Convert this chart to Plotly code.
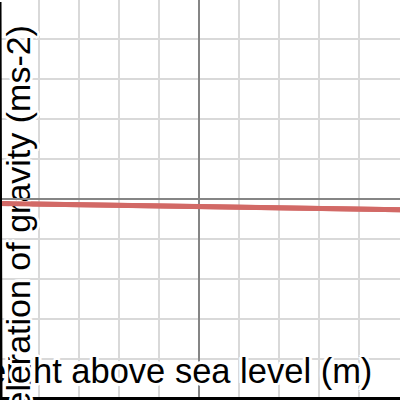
import plotly.graph_objects as go

# Data
heights_m = [-30000, -20000, -10000, 0, 10000, 20000, 30000]
gravity_ms2 = [9.903, 9.872, 9.841, 9.810, 9.779, 9.748, 9.717]

x_grid_ticks = [-20000, -15000, -10000, -5000, 0, 5000, 10000, 15000, 20000]
y_grid_ticks = [6, 7, 8, 9, 10, 11, 12, 13, 14]
y_axis_level = 10

x_title = "Height above sea level (m)"
y_title = "Acceleration of gravity (ms-2)"

FONT = "Liberation Sans, Arial, Helvetica, sans-serif"
HALO = ("3px 0 0 white, -3px 0 0 white, 0 3px 0 white, 0 -3px 0 white, "
        "2px 2px 0 white, -2px -2px 0 white, 2px -2px 0 white, -2px 2px 0 white, "
        "0 0 3px white")
RED = "rgb(210,105,102)"
AXIS_GREY = "#858585"

fig = go.Figure()
fig.add_trace(go.Scatter(
    x=heights_m, y=gravity_ms2, mode="lines",
    line=dict(color=RED, width=5),
    hoverinfo="skip", showlegend=False,
))


def overlay_segment(x_head, y_head, x_tail, y_tail, color, width):
    # line drawn on top of the axis titles (like the original rendering order)
    return dict(xref="x", yref="y", axref="x", ayref="y",
                x=x_head, y=y_head, ax=x_tail, ay=y_tail,
                text=" ", font=dict(size=1, color="rgba(0,0,0,0)"),
                showarrow=True, arrowhead=0, arrowwidth=width,
                arrowcolor=color, standoff=0, startstandoff=0)


mid = len(heights_m) // 2
annotations = [
    dict(text=x_title, xref="paper", yref="paper", x=0.4175, y=0.0725,
         xanchor="center", yanchor="middle", showarrow=False,
         font=dict(family=FONT, size=34.5, color="black", shadow=HALO)),
    dict(text=y_title, xref="paper", yref="paper", x=0.0455, y=0.385,
         xanchor="center", yanchor="middle", showarrow=False, textangle=-90,
         font=dict(family=FONT, size=34, color="black", shadow=HALO)),
    overlay_segment(heights_m[mid], y_axis_level, heights_m[0], y_axis_level, AXIS_GREY, 2),
    overlay_segment(heights_m[mid], y_axis_level, heights_m[-1], y_axis_level, AXIS_GREY, 2),
    overlay_segment(heights_m[mid], gravity_ms2[mid], heights_m[0], gravity_ms2[0], RED, 5),
    overlay_segment(heights_m[mid], gravity_ms2[mid], heights_m[-1], gravity_ms2[-1], RED, 5),
    # left frame edge on top
    dict(xref="paper", yref="paper", x=0, y=0, axref="pixel", ayref="pixel",
         ax=0, ay=-420, text=" ", font=dict(size=1, color="rgba(0,0,0,0)"),
         showarrow=True, arrowhead=0, arrowwidth=3, arrowcolor="black",
         standoff=0, startstandoff=0),
]

fig.update_layout(
    width=400, height=400,
    margin=dict(l=0, r=0, t=0, b=0),
    paper_bgcolor="white", plot_bgcolor="white",
    showlegend=False,
    xaxis=dict(range=[-24875, 25125], tickmode="array", tickvals=x_grid_ticks,
               showticklabels=False, ticks="", showgrid=True,
               gridcolor="#d9d9d9", gridwidth=1.5,
               zeroline=True, zerolinecolor=AXIS_GREY, zerolinewidth=2,
               showline=False, fixedrange=True),
    yaxis=dict(range=[4.975, 14.975], tickmode="array", tickvals=y_grid_ticks,
               showticklabels=False, ticks="", showgrid=True,
               gridcolor="#d9d9d9", gridwidth=1.5,
               zeroline=False, showline=False, fixedrange=True),
    shapes=[
        dict(type="line", xref="paper", x0=0, x1=1, yref="paper", y0=0, y1=0,
             line=dict(color="black", width=6), layer="above"),
    ],
    annotations=annotations,
)

fig.write_html(
    "out.html",
    config={"displayModeBar": False, "staticPlot": True},
    post_script="document.body.style.margin='0';document.body.style.overflow='hidden';",
)
